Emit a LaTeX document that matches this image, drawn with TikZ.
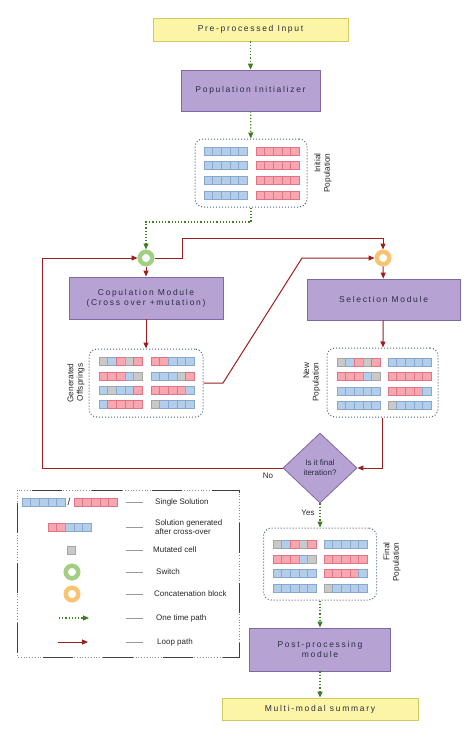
\documentclass[tikz,border=0pt]{standalone}
\usepackage{fontspec}
\setmainfont{Liberation Sans}
\newfontfamily\boxfont[LetterSpace=20]{Liberation Sans}
\usetikzlibrary{shapes.geometric,arrows.meta}
\definecolor{yelF}{HTML}{FBF5A5}
\definecolor{yelD}{HTML}{D2C866}
\definecolor{purF}{HTML}{B6A3D3}
\definecolor{purD}{HTML}{7E6AA3}
\definecolor{cfB}{HTML}{B4CDE9}
\definecolor{cdB}{HTML}{86A7CF}
\definecolor{cfR}{HTML}{F6A7B0}
\definecolor{cdR}{HTML}{E07484}
\definecolor{cfG}{HTML}{C9C9C9}
\definecolor{cdG}{HTML}{A5A5A5}
\definecolor{ringG}{HTML}{A3CF84}
\definecolor{ringO}{HTML}{F8C472}
\definecolor{popD}{HTML}{4B6282}
\definecolor{pathG}{HTML}{3F7F23}
\definecolor{pathR}{HTML}{9C1E1E}
\definecolor{txtD}{HTML}{2B2B45}
\newcommand\solrow[3]{\foreach \c [count=\i from 0] in {#3}{\draw[fill=cf\c, draw=cd\c, line width=0.5pt] ({#1+\i*8.6},{#2-4}) rectangle ++(8.6,8);}}
\tikzset{
  ybox/.style={draw=yelD, fill=yelF, line width=0.8pt, inner sep=0pt, text=txtD, font=\boxfont\fontsize{8.5}{10}\selectfont, align=center},
  pbox/.style={draw=purD, fill=purF, line width=0.8pt, inner sep=0pt, text=txtD, font=\boxfont\fontsize{8.5}{10}\selectfont, align=center},
  popbox/.style={draw=popD, dotted, line width=1pt, rounded corners=8pt, inner sep=0pt},
  poplabel/.style={rotate=90, align=right, font=\fontsize{8.3}{9.5}\selectfont, text=black!85},
  ringsw/.style={circle, draw=ringG, line width=4.5pt, fill=white, minimum size=12.5pt, inner sep=0pt},
  ringcc/.style={circle, draw=ringO, line width=4.5pt, fill=white, minimum size=12.5pt, inner sep=0pt},
  gpath/.style={draw=pathG, dotted, line width=1.2pt, -{Triangle[length=6pt,width=5pt,fill=pathG]}},
  rpath/.style={draw=pathR, line width=1pt, -{Triangle[length=6pt,width=5pt,fill=pathR]}},
  lbl/.style={font=\fontsize{8}{9.5}\selectfont, text=black!85, inner sep=0pt},
  legtxt/.style={font=\fontsize{8}{9.5}\selectfont, text=black!85, inner sep=0pt, anchor=west, align=left},
}
\begin{document}
\begin{tikzpicture}[x=1pt,y=-1pt]
\useasboundingbox (0,0) rectangle (474,739);
% boxes
\node[ybox, minimum width=195pt, minimum height=23pt] (input) at (250.5,29.5) {Pre-processed Input};
\node[pbox, minimum width=139pt, minimum height=41pt] (init) at (250.5,90.5) {Population Initializer};
\node[popbox, minimum width=112pt, minimum height=68pt] (initpop) at (251,173) {};
\node[poplabel] (initlbl) at (323,173) {Initial\\Population};
\node[ringsw] (sw) at (146,258) {};
\node[ringcc] (conc) at (383,258) {};
\node[pbox, minimum width=154pt, minimum height=42pt] (copul) at (146,298) {Copulation Module\\(Cross over +mutation)};
\node[pbox, minimum width=153pt, minimum height=41pt] (sel) at (383.5,299.5) {Selection Module};
\node[popbox, minimum width=114pt, minimum height=68pt] (genoff) at (146,383) {};
\node[poplabel] (genlbl) at (76,383) {Generated\\Offsprings};
\node[popbox, minimum width=111pt, minimum height=69pt] (newpop) at (382.5,382.5) {};
\node[poplabel] (newlbl) at (312,382) {New\\Population};
\node[diamond, draw=purD, fill=purF, line width=0.8pt, minimum width=74pt, minimum height=70pt, inner sep=0pt, align=center, font=\fontsize{8}{10}\selectfont, text=txtD] (dia) at (320,468) {Is it final\\iteration?};
\node[popbox, minimum width=113pt, minimum height=72pt] (finpop) at (320,564) {};
\node[poplabel] (finlbl) at (392,562) {Final\\Population};
\node[pbox, minimum width=141pt, minimum height=43pt] (post) at (320,649.5) {Post-processing\\module};
\node[ybox, minimum width=196pt, minimum height=22pt] (summ) at (320,709) {Multi-modal summary};
% cells: initial population
\foreach \y in {151,165,180,195}{\solrow{204}{\y}{B,B,B,B,B}\solrow{256}{\y}{R,R,R,R,R}}
% generated offsprings
\solrow{99}{361}{G,B,R,G,R}\solrow{151}{361}{R,R,B,B,B}
\solrow{99}{376}{R,R,R,B,G}\solrow{151}{376}{B,B,B,G,R}
\solrow{99}{390}{B,G,B,B,R}\solrow{151}{390}{R,R,R,R,B}
\solrow{99}{404}{B,R,R,R,R}\solrow{151}{404}{G,B,B,B,B}
% new population
\solrow{337}{362}{G,B,R,G,R}\solrow{388}{362}{B,B,B,B,B}
\solrow{337}{376}{R,R,R,B,G}\solrow{388}{376}{R,R,R,R,R}
\solrow{337}{391}{B,B,B,B,B}\solrow{388}{391}{R,R,R,R,B}
\solrow{337}{405}{B,B,B,B,B}\solrow{388}{405}{G,B,B,B,B}
% final population
\solrow{273}{544}{G,B,R,G,R}\solrow{324}{544}{B,B,B,B,B}
\solrow{273}{559}{R,R,R,B,G}\solrow{324}{559}{R,R,R,R,R}
\solrow{273}{573}{B,B,B,B,B}\solrow{324}{573}{R,R,R,R,B}
\solrow{273}{588}{B,B,B,B,B}\solrow{324}{588}{G,B,B,B,B}
% coordinates
\coordinate (j1) at (146,222);
\coordinate (j2) at (182,238);
\coordinate (j3) at (223,383);
\coordinate (j4) at (302,258);
\coordinate (j5) at (42,468);
% connectors
\draw[gpath] (input) -- (init);
\draw[gpath] (init) -- (initpop);
\draw[gpath] (initpop.south) |- (j1) -- (sw);
\draw[rpath] (sw) -- (copul);
\draw[rpath] (sw.east) -| (j2) -| (conc);
\draw[rpath] (copul) -- (genoff);
\draw[rpath] (genoff.east) -- (j3) -- (j4) -- (conc.west);
\draw[rpath] (conc) -- (sel);
\draw[rpath] (sel) -- (newpop);
\draw[rpath] (newpop.south) |- (dia.east);
\draw[rpath] (dia.west) -- (j5) |- (sw.west);
\node[lbl] (nolbl) at (268,476) {No};
\draw[gpath] (dia.south) -- (finpop);
\node[lbl] (yeslbl) at (308,513) {Yes};
\draw[gpath] (finpop) -- (post);
\draw[gpath] (post) -- (summ);
% legend
\draw[black!45, dotted, line width=0.8pt] (17,490) rectangle (239,657);
\draw[black!75, line width=1pt, dash pattern=on 30pt off 30pt, dash phase=-15pt] (17,490) -- (239,490) -- (239,657) -- (17,657) -- cycle;
\solrow{22}{502}{B,B,B,B,B}
\node[lbl, font=\fontsize{10}{10}\selectfont] (slash) at (69,502) {/};
\solrow{74}{502}{R,R,R,R,R}
\solrow{48}{527}{R,R,B,B,B}
\solrow{67}{550}{G}
\node[ringsw] (lsw) at (72,572) {};
\node[ringcc] (lcc) at (72,594) {};
\coordinate (lg1) at (59,618);
\coordinate (lg2) at (89,618);
\draw[gpath] (lg1) -- (lg2);
\coordinate (lr1) at (58,642);
\coordinate (lr2) at (88,642);
\draw[rpath] (lr1) -- (lr2);
\foreach \y in {502,527,550,572,594,618,642}{\draw[black!40, line width=0.7pt] (126,\y) -- (143,\y);}
\node[legtxt] (t1) at (155,502) {Single Solution};
\node[legtxt] (t2) at (155,527) {Solution generated\\after cross-over};
\node[legtxt] (t3) at (153,550) {Mutated cell};
\node[legtxt] (t4) at (156,572) {Switch};
\node[legtxt] (t5) at (154,594) {Concatenation block};
\node[legtxt] (t6) at (156,618) {One time path};
\node[legtxt] (t7) at (157,642) {Loop path};
\end{tikzpicture}
\end{document}
